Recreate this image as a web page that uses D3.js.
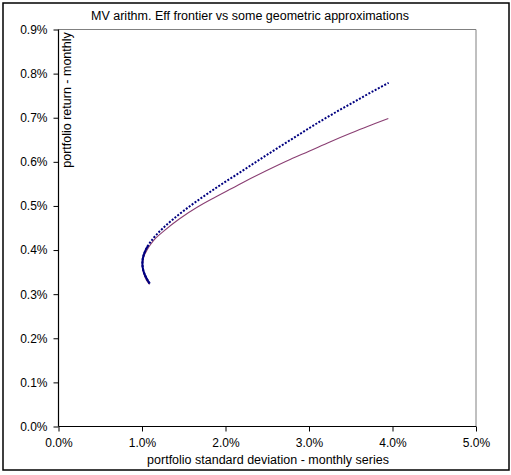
<!DOCTYPE html>
<html>
<head>
    <script src="https://cdnjs.cloudflare.com/ajax/libs/d3/7.8.5/d3.min.js"></script>
    <style>
        body {
            margin: 0;
            background-color: #ffffff;
            overflow: hidden;
        }
        text {
            font-family: Arial, "Liberation Sans", sans-serif;
            fill: #000;
        }
    </style>
</head>
<body>
<script>
const width = 511;
const height = 475;

// data (sigma %, mean %)
const arithSigma = [1.092, 1.057, 1.022, 1.009, 1.005, 1.009, 1.022, 1.043, 1.072, 1.108, 1.174, 1.253,
    1.373, 1.506, 1.650, 1.802, 2.000, 2.206, 2.416, 2.630, 2.848, 3.067, 3.289, 3.512, 3.737, 3.954];
const arithMean = [0.324, 0.335, 0.350, 0.360, 0.370, 0.380, 0.390, 0.400, 0.410, 0.420, 0.435, 0.450,
    0.470, 0.490, 0.510, 0.530, 0.555, 0.580, 0.606, 0.632, 0.658, 0.684, 0.709, 0.733, 0.757, 0.779];

const geoSigma = [1.090, 1.050, 1.020, 1.006, 1.005, 1.010, 1.030, 1.060, 1.100, 1.170, 1.260, 1.450,
    1.660, 1.860, 2.080, 2.300, 2.500, 2.780, 3.000, 3.250, 3.490, 3.700, 3.950];
const geoMean = [0.322, 0.333, 0.347, 0.360, 0.368, 0.374, 0.389, 0.400, 0.412, 0.428, 0.443, 0.471,
    0.497, 0.518, 0.540, 0.562, 0.581, 0.606, 0.624, 0.645, 0.664, 0.680, 0.698];

const xTicks = [0, 1, 2, 3, 4, 5];
const yTicks = [0, 0.1, 0.2, 0.3, 0.4, 0.5, 0.6, 0.7, 0.8, 0.9];

const chartTitle = "MV arithm. Eff frontier vs some geometric approximations";
const xTitle = "portfolio standard deviation - monthly series";
const yTitle = "portfolio return - monthly";

const plot = { left: 58.5, right: 476, top: 29.5, bottom: 426.5 };

const svg = d3.select("body")
    .append("svg")
    .attr("width", width)
    .attr("height", height);

// outer chart frame
svg.append("rect")
    .attr("x", 3)
    .attr("y", 3)
    .attr("width", 506)
    .attr("height", 467)
    .attr("fill", "#fff")
    .attr("stroke", "#000")
    .attr("stroke-width", 1.5);

const x = d3.scaleLinear().domain([0, 5]).range([plot.left, plot.right]);
const y = d3.scaleLinear().domain([0, 0.9]).range([plot.bottom, plot.top]);

// gray plot border (top/right)
svg.append("path")
    .attr("d", `M${plot.left},${plot.top}H${plot.right}V${plot.bottom}`)
    .attr("fill", "none")
    .attr("stroke", "#808080")
    .attr("stroke-width", 1);

const xAxis = svg.append("g")
    .attr("transform", `translate(0,${plot.bottom})`)
    .call(d3.axisBottom(x).tickValues(xTicks).tickSize(5).tickPadding(7)
        .tickFormat(d => d.toFixed(1) + "%"));

const yAxis = svg.append("g")
    .attr("transform", `translate(${plot.left},0)`)
    .call(d3.axisLeft(y).tickValues(yTicks).tickSize(5).tickPadding(6)
        .tickFormat(d => d.toFixed(1) + "%"));

[xAxis, yAxis].forEach(g => {
    g.select(".domain").attr("stroke", "#000").attr("stroke-width", 1.2);
    g.selectAll(".tick line").attr("stroke", "#000");
    g.selectAll(".tick text")
        .attr("font-size", 12)
        .attr("font-family", "Arial, 'Liberation Sans', sans-serif")
        .attr("fill", "#000");
});
yAxis.select(".domain").attr("d", `M0,${plot.top}V${plot.bottom}`);
xAxis.select(".domain").attr("d", `M${plot.left},0H${plot.right}`);

// series
const geoData = geoSigma.map((s, i) => [s, geoMean[i]]);
const arithData = arithSigma.map((s, i) => [s, arithMean[i]]);

const line = d3.line()
    .x(d => x(d[0]))
    .y(d => y(d[1]))
    .curve(d3.curveMonotoneY);

svg.append("path")
    .datum(geoData)
    .attr("d", line)
    .attr("fill", "none")
    .attr("stroke", "#8a3f73")
    .attr("stroke-width", 1.1);

svg.append("path")
    .datum(arithData)
    .attr("d", line)
    .attr("fill", "none")
    .attr("stroke", "#000080")
    .attr("stroke-width", 2)
    .attr("stroke-dasharray", "2,1.6");

// lower part of the frontier looks solid where the points crowd together
svg.append("path")
    .datum(arithData.filter(d => d[1] <= 0.415))
    .attr("d", line)
    .attr("fill", "none")
    .attr("stroke", "#000080")
    .attr("stroke-width", 2);

// titles
svg.append("text")
    .attr("x", 250)
    .attr("y", 20)
    .attr("text-anchor", "middle")
    .attr("font-size", 12.5)
    .text(chartTitle);

svg.append("text")
    .attr("x", 268)
    .attr("y", 464)
    .attr("text-anchor", "middle")
    .attr("font-size", 12.5)
    .text(xTitle);

svg.append("text")
    .attr("transform", "translate(71,100) rotate(-90)")
    .attr("text-anchor", "middle")
    .attr("font-size", 12.5)
    .text(yTitle);
</script>
</body>
</html>
